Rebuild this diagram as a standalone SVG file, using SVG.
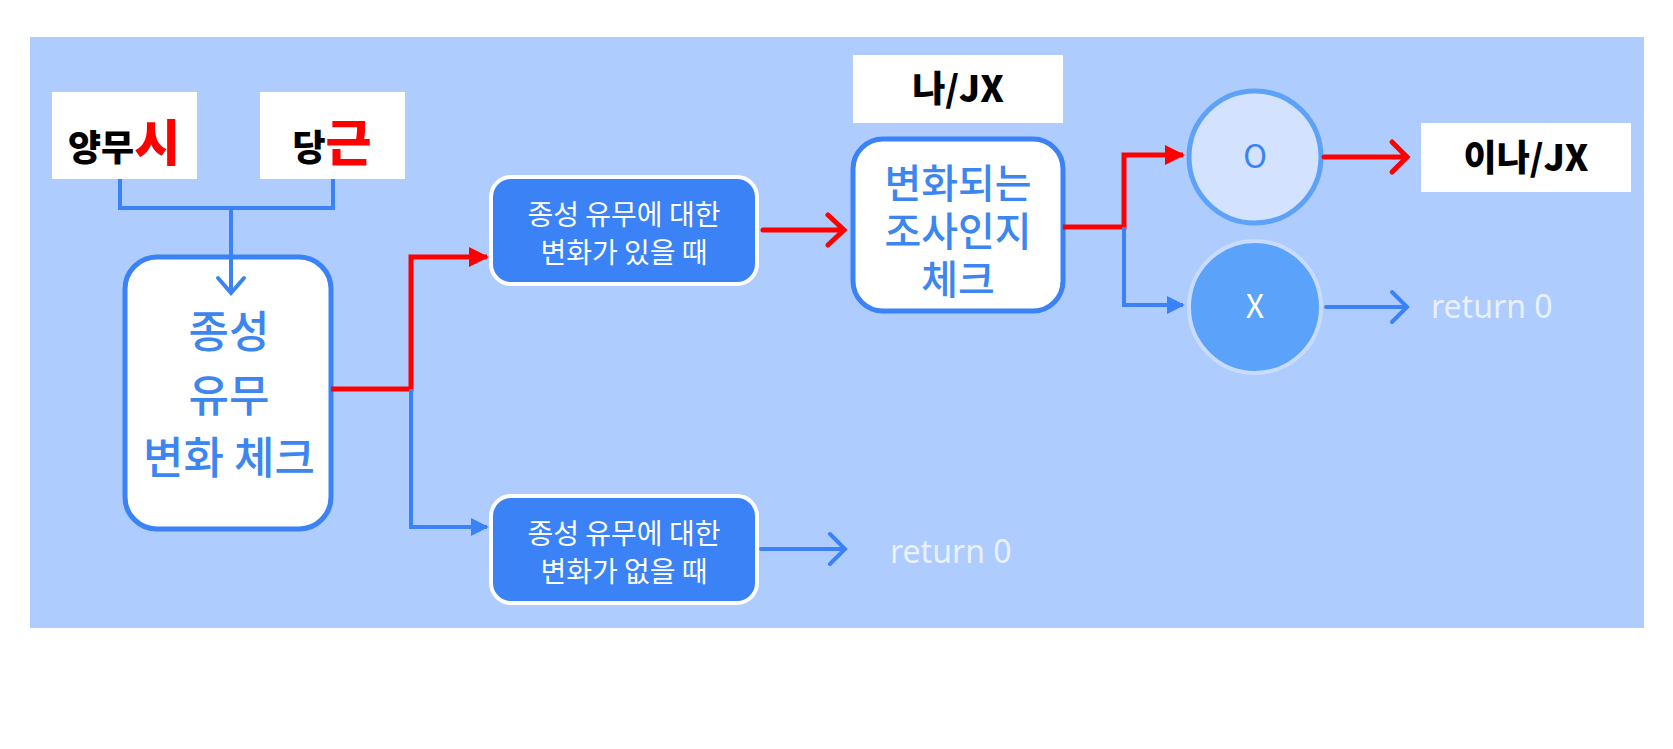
<svg xmlns="http://www.w3.org/2000/svg" width="1673" height="749" viewBox="0 0 1673 749">
<style>
text{font-family:"Noto Sans CJK KR","Noto Sans",sans-serif;text-anchor:middle}
.blk{font-weight:900;fill:#000;font-size:36px}
.big{fill:#3d86f0;font-size:44px;font-weight:500}
.mid{fill:#3d86f0;font-size:40px;font-weight:500}
.sm{fill:#fff;font-size:28px}
.ret{fill:#e9f1ff;font-size:32px;text-anchor:start;font-family:"Noto Sans",sans-serif}
.wb{fill:#fff;stroke:#3b82f6;stroke-width:5}
.bb{fill:#3b82f6;stroke:#fff;stroke-width:4}
.r{fill:none;stroke:#ff0000;stroke-width:5}
.b{fill:none;stroke:#3b82f6;stroke-width:4}
</style>
<defs>
<marker id="tr" viewBox="0 0 10 10" refX="9" refY="5" markerWidth="4" markerHeight="4" markerUnits="strokeWidth" orient="auto"><path d="M0,0L10,5L0,10z" fill="#ff0000"/></marker>
<marker id="tb" viewBox="0 0 10 10" refX="9" refY="5" markerWidth="4.5" markerHeight="4.5" markerUnits="strokeWidth" orient="auto"><path d="M0,0L10,5L0,10z" fill="#3b82f6"/></marker>
</defs>
<rect width="1673" height="749" fill="#fff"/>
<rect x="30" y="37" width="1614" height="591" fill="#aeccfd"/>
<g id="n-yangmusi"><rect x="52" y="92" width="145" height="87" fill="#fff"/><text x="124" y="161" class="blk" font-size="32">양무<tspan fill="#ff0000" font-size="50">시</tspan></text></g>
<g id="n-danggeun"><rect x="260" y="92" width="145" height="87" fill="#fff"/><text x="332" y="161" class="blk" font-size="32">당<tspan fill="#ff0000" font-size="50">근</tspan></text></g>
<g id="n-check"><rect x="125" y="257" width="206" height="272" rx="32" class="wb"/><text class="big" x="229" y="348">종성</text><text class="big" x="229" y="412">유무</text><text class="big" x="229" y="474">변화 체크</text></g>
<g id="n-yes"><rect x="491" y="177" width="266" height="107" rx="20" class="bb"/><text class="sm" x="624" y="225">종성 유무에 대한</text><text class="sm" x="624" y="263">변화가 있을 때</text></g>
<g id="n-no"><rect x="491" y="496" width="266" height="107" rx="20" class="bb"/><text class="sm" x="624" y="544">종성 유무에 대한</text><text class="sm" x="624" y="582">변화가 없을 때</text></g>
<g id="n-najx"><rect x="853" y="55" width="210" height="68" fill="#fff"/><text class="blk" x="958" y="102">나/JX</text></g>
<g id="n-josa"><rect x="853" y="139" width="210" height="172" rx="30" class="wb"/><text class="mid" x="958" y="198">변화되는</text><text class="mid" x="958" y="246">조사인지</text><text class="mid" x="958" y="294">체크</text></g>
<g id="n-o"><circle cx="1255" cy="157" r="66" fill="#d3e3ff" stroke="#5ea2f7" stroke-width="5"/><text x="1255" y="168" font-size="32" fill="#3b82f6" font-family="Noto Sans,sans-serif">O</text></g>
<g id="n-x"><circle cx="1255" cy="307" r="66" fill="#5ba3fa" stroke="#c9dcff" stroke-width="4"/><text x="1255" y="318" font-size="32" fill="#fff" font-family="Noto Sans,sans-serif">X</text></g>
<g id="n-inajx"><rect x="1421" y="123" width="210" height="69" fill="#fff"/><text class="blk" x="1526" y="171">이나/JX</text></g>
<g id="n-ret1"><text class="ret" x="890" y="563">return 0</text></g>
<g id="n-ret2"><text class="ret" x="1431" y="318">return 0</text></g>
<g id="connectors">
<path class="b" d="M120,179V208H333V179M231,208V291"/>
<path class="b" d="M218,278L231,293L244,278" stroke-linecap="round"/>
<path class="r" d="M331,389H411V257H487" marker-end="url(#tr)"/>
<path class="b" d="M411,389V527H487" marker-end="url(#tb)"/>
<path class="r" d="M763,230H843M828,215L844,230L828,245" stroke-linecap="round"/>
<path class="b" d="M761,549H843M830,534L845,549L830,564" stroke-linecap="round"/>
<path class="r" d="M1063,227H1124V155H1183" marker-end="url(#tr)"/>
<path class="b" d="M1124,227V305H1183" marker-end="url(#tb)"/>
<path class="r" d="M1324,157H1405M1392,142L1407,157L1392,172" stroke-linecap="round"/>
<path class="b" d="M1326,307H1405M1392,292L1407,307L1392,322" stroke-linecap="round"/>
</g>
</svg>
